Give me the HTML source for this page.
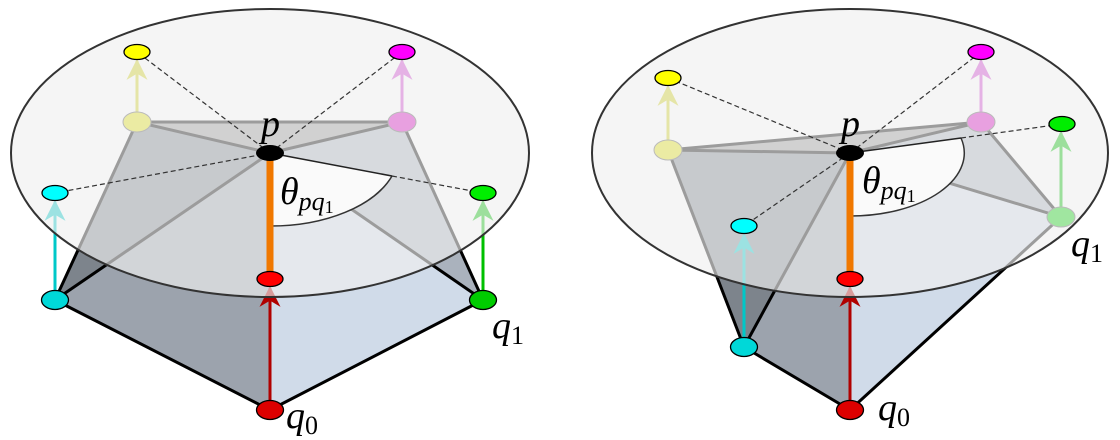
<!DOCTYPE html>
<html><head><meta charset="utf-8"><style>
html,body{margin:0;padding:0;background:#fff;}
svg{display:block;}
</style></head><body>
<svg width="1120" height="440" viewBox="0 0 1120 440" xmlns="http://www.w3.org/2000/svg">
<defs>
<marker id="ac" viewBox="0 0 10 10" refX="9" refY="5" markerWidth="7" markerHeight="7" orient="auto"><path d="M0,0 L10,5 L0,10 L3,5 Z" fill="#00c8c8"/></marker>
<marker id="ag" viewBox="0 0 10 10" refX="9" refY="5" markerWidth="7" markerHeight="7" orient="auto"><path d="M0,0 L10,5 L0,10 L3,5 Z" fill="#00c000"/></marker>
<marker id="ar" viewBox="0 0 10 10" refX="9" refY="5" markerWidth="7" markerHeight="7" orient="auto"><path d="M0,0 L10,5 L0,10 L3,5 Z" fill="#b00000"/></marker>
<marker id="ay" viewBox="0 0 10 10" refX="9" refY="5" markerWidth="7" markerHeight="7" orient="auto"><path d="M0,0 L10,5 L0,10 L3,5 Z" fill="#d0d020"/></marker>
<marker id="am" viewBox="0 0 10 10" refX="9" refY="5" markerWidth="7" markerHeight="7" orient="auto"><path d="M0,0 L10,5 L0,10 L3,5 Z" fill="#d040d0"/></marker>
</defs>

<g font-family="'Liberation Serif', 'DejaVu Serif', serif" font-style="italic" fill="#000">
<!-- ============ LEFT PANEL ============ -->
<g>
<polygon points="137,122 55,300 270,153" fill="#7d848c"/>
<polygon points="55,300 270,410 270,153" fill="#9ca3ad"/>
<polygon points="270,410 483,300 270,153" fill="#d0dbe9"/>
<polygon points="483,300 402,122 270,153" fill="#aab2bd"/>
<polygon points="137,122 402,122 270,153" fill="#999"/>
<g stroke="#000" stroke-width="3" fill="none" stroke-linejoin="round">
<line x1="270" y1="153" x2="137" y2="122"/>
<line x1="270" y1="153" x2="402" y2="122"/>
<line x1="137" y1="122" x2="402" y2="122"/>
<line x1="137" y1="122" x2="55" y2="300"/>
<line x1="402" y1="122" x2="483" y2="300"/>
<line x1="270" y1="153" x2="55" y2="300"/>
<line x1="270" y1="153" x2="483" y2="300"/>
<line x1="55" y1="300" x2="270" y2="410"/>
<line x1="270" y1="410" x2="483" y2="300"/>
</g>
<line x1="55" y1="300" x2="55" y2="202" stroke="#00c8c8" stroke-width="3" marker-end="url(#ac)"/>
<line x1="483" y1="300" x2="483" y2="202" stroke="#00c000" stroke-width="3" marker-end="url(#ag)"/>
<line x1="137" y1="122" x2="137" y2="61" stroke="#d0d020" stroke-width="3" marker-end="url(#ay)"/>
<line x1="402" y1="122" x2="402" y2="61" stroke="#d040d0" stroke-width="3" marker-end="url(#am)"/>
<line x1="270" y1="410" x2="270" y2="288" stroke="#b00000" stroke-width="3" marker-end="url(#ar)"/>
<ellipse cx="270" cy="153" rx="259" ry="144" fill="rgba(240,240,240,0.65)" stroke="#333" stroke-width="2"/>
<ellipse cx="137" cy="122" rx="14" ry="10" fill="#ebeba3" stroke="#bbb" stroke-width="1"/>
<ellipse cx="402" cy="122" rx="14" ry="10" fill="#e8a0e0" stroke="#bbb" stroke-width="1"/>
<path d="M270,153 L392,176 A128,73 0 0 1 270,226 Z" fill="#fafafa" stroke="none"/>
<path d="M392,176 A128,73 0 0 1 270,226" fill="none" stroke="#333" stroke-width="1.5"/>
<line x1="270" y1="153" x2="392" y2="176" stroke="#222" stroke-width="1.5"/>
<g stroke="#333" stroke-width="1.2" stroke-dasharray="5,3">
<line x1="270" y1="153" x2="137" y2="52"/>
<line x1="270" y1="153" x2="402" y2="52"/>
<line x1="270" y1="153" x2="55" y2="193"/>
<line x1="392" y1="176" x2="483" y2="193"/>
</g>
<line x1="270" y1="153" x2="270" y2="279" stroke="#f07800" stroke-width="7"/>
<g stroke="#000" stroke-width="1.3">
<ellipse cx="137" cy="52" rx="13" ry="7.5" fill="#ffff00"/>
<ellipse cx="402" cy="52" rx="13" ry="7.5" fill="#ff00ff"/>
<ellipse cx="55" cy="193" rx="13" ry="7.5" fill="#00ffff"/>
<ellipse cx="483" cy="193" rx="13" ry="7.5" fill="#00ee00"/>
<ellipse cx="270" cy="279" rx="13" ry="7.5" fill="#ff0000"/>
<ellipse cx="55" cy="300" rx="13.5" ry="9.5" fill="#00d8d8"/>
<ellipse cx="483" cy="300" rx="13.5" ry="9.5" fill="#00cc00"/>
<ellipse cx="270" cy="410" rx="13.5" ry="9.5" fill="#dd0000"/>
</g>
<ellipse cx="270" cy="153" rx="14" ry="8" fill="#000"/>
<text x="261" y="136" font-size="38">p</text>
<text x="280" y="204" font-size="38">θ<tspan font-size="26" dy="6">pq</tspan><tspan font-size="18" dy="3" font-style="normal">1</tspan></text>
<text x="492" y="338" font-size="38">q<tspan font-size="26" dy="6" font-style="normal">1</tspan></text>
<text x="286" y="428" font-size="38">q<tspan font-size="26" dy="6" font-style="normal">0</tspan></text>
</g>

<!-- ============ RIGHT PANEL ============ -->
<g>
<polygon points="668,150 744,347 850,153" fill="#7d848c"/>
<polygon points="744,347 850,410 850,153" fill="#9ca3ad"/>
<polygon points="850,410 1061,217 850,153" fill="#d0dbe9"/>
<polygon points="1061,217 981,122 850,153" fill="#aab2bd"/>
<polygon points="668,150 981,122 850,153" fill="#999"/>
<g stroke="#000" stroke-width="3" fill="none" stroke-linejoin="round">
<line x1="850" y1="153" x2="668" y2="150"/>
<line x1="850" y1="153" x2="981" y2="122"/>
<line x1="668" y1="150" x2="981" y2="122"/>
<line x1="668" y1="150" x2="744" y2="347"/>
<line x1="981" y1="122" x2="1061" y2="217"/>
<line x1="850" y1="153" x2="744" y2="347"/>
<line x1="850" y1="153" x2="1061" y2="217"/>
<line x1="744" y1="347" x2="850" y2="410"/>
<line x1="850" y1="410" x2="1061" y2="217"/>
</g>
<line x1="744" y1="347" x2="744" y2="235" stroke="#00c8c8" stroke-width="3" marker-end="url(#ac)"/>
<line x1="1061" y1="217" x2="1061" y2="133" stroke="#00c000" stroke-width="3" marker-end="url(#ag)"/>
<line x1="668" y1="150" x2="668" y2="87" stroke="#d0d020" stroke-width="3" marker-end="url(#ay)"/>
<line x1="981" y1="122" x2="981" y2="61" stroke="#d040d0" stroke-width="3" marker-end="url(#am)"/>
<line x1="850" y1="410" x2="850" y2="288" stroke="#b00000" stroke-width="3" marker-end="url(#ar)"/>
<ellipse cx="850" cy="153" rx="258" ry="144" fill="rgba(240,240,240,0.65)" stroke="#333" stroke-width="2"/>
<ellipse cx="668" cy="150" rx="14" ry="10" fill="#ebeba3" stroke="#bbb" stroke-width="1"/>
<ellipse cx="981" cy="122" rx="14" ry="10" fill="#e8a0e0" stroke="#bbb" stroke-width="1"/>
<ellipse cx="1061" cy="217" rx="14" ry="10" fill="#a0e6a0" stroke="#bbb" stroke-width="1"/>
<path d="M850,153 L961,138 A114,63 0 0 1 850,216 Z" fill="#fafafa" stroke="none"/>
<path d="M961,138 A114,63 0 0 1 850,216" fill="none" stroke="#333" stroke-width="1.5"/>
<line x1="850" y1="153" x2="961" y2="138" stroke="#222" stroke-width="1.5"/>
<g stroke="#333" stroke-width="1.2" stroke-dasharray="5,3">
<line x1="850" y1="153" x2="668" y2="78"/>
<line x1="850" y1="153" x2="981" y2="52"/>
<line x1="850" y1="153" x2="744" y2="226"/>
<line x1="961" y1="138" x2="1062" y2="124"/>
</g>
<line x1="850" y1="153" x2="850" y2="279" stroke="#f07800" stroke-width="7"/>
<g stroke="#000" stroke-width="1.3">
<ellipse cx="668" cy="78" rx="13" ry="7.5" fill="#ffff00"/>
<ellipse cx="981" cy="52" rx="13" ry="7.5" fill="#ff00ff"/>
<ellipse cx="744" cy="226" rx="13" ry="7.5" fill="#00ffff"/>
<ellipse cx="1062" cy="124" rx="13" ry="7.5" fill="#00ee00"/>
<ellipse cx="850" cy="279" rx="13" ry="7.5" fill="#ff0000"/>
<ellipse cx="744" cy="347" rx="13.5" ry="9.5" fill="#00d8d8"/>
<ellipse cx="850" cy="410" rx="13.5" ry="9.5" fill="#dd0000"/>
</g>
<ellipse cx="850" cy="153" rx="14" ry="8" fill="#000"/>
<text x="841" y="136" font-size="38">p</text>
<text x="862" y="193" font-size="38">θ<tspan font-size="26" dy="6">pq</tspan><tspan font-size="18" dy="3" font-style="normal">1</tspan></text>
<text x="1071" y="256" font-size="38">q<tspan font-size="26" dy="6" font-style="normal">1</tspan></text>
<text x="878" y="420" font-size="38">q<tspan font-size="26" dy="6" font-style="normal">0</tspan></text>
</g>
</g>
</svg>
</body></html>
